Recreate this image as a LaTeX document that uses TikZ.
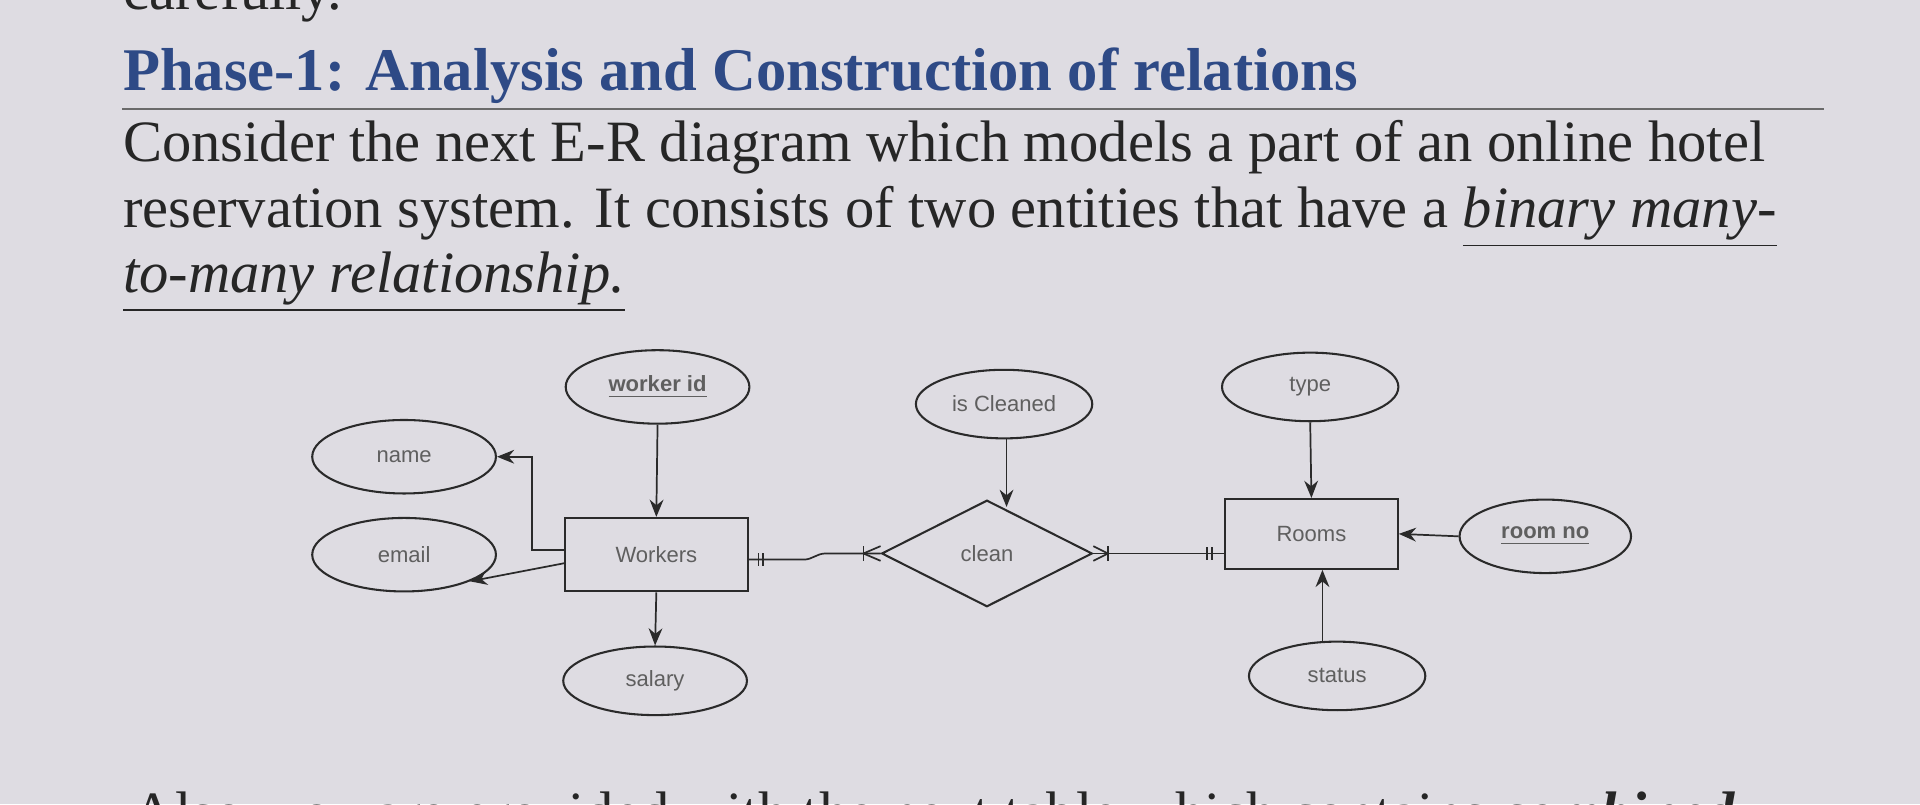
\documentclass[tikz,border=0pt]{standalone}
\usepackage{fontspec}
\setmainfont{Liberation Serif}
\setsansfont{Liberation Sans}
\usetikzlibrary{shapes.geometric,arrows.meta,calc}
\definecolor{bg}{HTML}{DEDCE2}
\definecolor{ttl}{HTML}{2E4A86}
\definecolor{ink}{HTML}{2A2A2A}
\begin{document}
\begin{tikzpicture}[x=0.0125cm,y=-0.0125cm,
  attr/.style={draw=ink,ellipse,line width=0.6pt,inner sep=0pt,font=\sffamily\fontsize{6.4}{8}\selectfont,text=ink!75},
  ent/.style={draw=ink,rectangle,line width=0.6pt,inner sep=0pt,font=\sffamily\fontsize{6.4}{8}\selectfont,text=ink!75},
  rel/.style={draw=ink,diamond,line width=0.6pt,inner sep=0pt,font=\sffamily\fontsize{6.4}{8}\selectfont,text=ink!75},
  arr/.style={draw=ink,line width=0.5pt,-{Stealth[length=5pt,width=4pt]}},
  ln/.style={draw=ink,line width=0.5pt},
  body/.style={anchor=base west,inner sep=0pt,font=\fontsize{17}{20}\selectfont,text=black!85}]
\fill[bg] (0,0) rectangle (1568,657);
\useasboundingbox (0,0) rectangle (1568,657);
% clipped texts
\node[body] (top) at (100,8) {carefully.};
\node[body] (bot) at (108,680) {Also, you are provided with the next table which contains \textbf{\textit{combined}}};
% title
\node[anchor=base west,inner sep=0pt,font=\bfseries\fontsize{17.6}{20}\selectfont,text=ttl] (title) at (100,74) {\underline{Phase-1: Analysis and Construction of relations}};
\coordinate (r1) at (100,89); \coordinate (r2) at (1490,89);
\draw[ink!70,line width=0.6pt] (r1) -- (r2);
\node[body] (l1) at (100,132) {Consider the next E-R diagram which models a part of an online hotel};
\node[body] (l2) at (100,186) {reservation system. It consists of two entities that have a \underline{\textit{binary many-}}};
\node[body] (l3) at (100,239) {\underline{\textit{to-many relationship.}}};
% diagram
\node[attr,minimum width=1.875cm,minimum height=0.75cm] (wid) at (537,316) {\textbf{\underline{worker id}}};
\node[attr,minimum width=1.8cm,minimum height=0.7cm] (isc) at (820,330) {is Cleaned};
\node[attr,minimum width=1.8cm,minimum height=0.7cm] (type) at (1070,316) {type};
\node[attr,minimum width=1.875cm,minimum height=0.75cm] (name) at (330,373) {name};
\node[attr,minimum width=1.875cm,minimum height=0.75cm] (email) at (330,453) {email};
\node[ent,minimum width=1.8625cm,minimum height=0.75cm] (W) at (536,453) {Workers};
\node[rel,minimum width=2.15cm,minimum height=1.0875cm] (clean) at (806,452) {clean};
\node[ent,minimum width=1.7625cm,minimum height=0.7125cm] (R) at (1071,436) {Rooms};
\node[attr,minimum width=1.75cm,minimum height=0.75cm] (rno) at (1262,438) {\textbf{\underline{room no}}};
\node[attr,minimum width=1.875cm,minimum height=0.7cm] (sal) at (535,556) {salary};
\node[attr,minimum width=1.8cm,minimum height=0.7cm] (st) at (1092,552) {status};
\coordinate (ct) at (822,414);
\draw[arr] (wid.south) -- (W.north);
\draw[arr] (W.south) -- (sal.north);
\draw[arr] ($(W.west)+(0,-4)$) -- ++(-26,0) |- (name.east);
\draw[arr] ($(W.west)+(0,7)$) -- (email.-22);
\draw[arr] (isc.south -| ct) -- (ct);
\draw[arr] (type.south) -- (R.north);
\draw[arr] (rno.west) -- (R.east);
\draw[arr] (st.north -| 1080,0) -- (R.south -| 1080,0);
% relationship lines
\coordinate (wa) at ($(W.east)+(0,4)$);
\draw[ln] (wa) -- ++(45,0) to[out=0,in=180] ($(clean.west)+(-45,0)$) -- (clean.west);
\draw[ln] ($(wa)+(8,-5)$) -- ++(0,10) ($(wa)+(12,-5)$) -- ++(0,10);
\draw[ln] ($(clean.west)+(-14,0)$) -- ($(clean.west)+(0,-6)$) ($(clean.west)+(-14,0)$) -- ($(clean.west)+(0,6)$);
\draw[ln] ($(clean.west)+(-14,-6)$) -- ++(0,12);
\draw[ln] (clean.east) -- (R.west |- clean.east);
\draw[ln] ($(clean.east)+(12,0)$) -- ($(clean.east)+(0,-6)$) ($(clean.east)+(12,0)$) -- ($(clean.east)+(0,6)$);
\draw[ln] ($(clean.east)+(12,-6)$) -- ++(0,12);
\draw[ln] ($(R.west |- clean.east)+(-14,-5)$) -- ++(0,10) ($(R.west |- clean.east)+(-10,-5)$) -- ++(0,10);
\end{tikzpicture}
\end{document}
